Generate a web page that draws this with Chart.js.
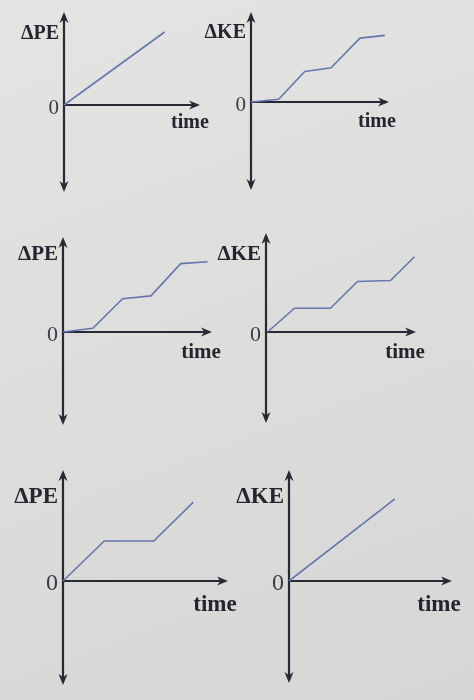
<!DOCTYPE html>
<html>
<head>
<meta charset="utf-8">
<script src="https://cdn.jsdelivr.net/npm/chart.js@4/dist/chart.umd.min.js"></script>
<style>
  html, body { margin: 0; padding: 0; }
  body {
    width: 474px; height: 700px; position: relative; overflow: hidden;
    background: linear-gradient(160deg, #e4e4e3 0%, #dcdcdb 55%, #d6d6d5 100%);
  }
  canvas { position: absolute; left: 0; top: 0; }
</style>
</head>
<body>
<canvas id="c1" width="474" height="700"></canvas>
<canvas id="c2" width="474" height="700"></canvas>
<canvas id="c3" width="474" height="700"></canvas>
<canvas id="c4" width="474" height="700"></canvas>
<canvas id="c5" width="474" height="700"></canvas>
<canvas id="c6" width="474" height="700"></canvas>
<script>
// values (time 0..10 to the arrow tip, energy 10 = top arrow tip)
const peTime1 = [0, 7.4];
const peValue1 = [0, 7.85];
const keTime1 = [0, 2.0, 3.9, 5.8, 7.9, 9.7];
const keValue1 = [0, 0.3, 3.4, 3.8, 7.1, 7.4];
const peTime2 = [0, 2.0, 4.0, 5.9, 7.9, 9.7];
const peValue2 = [0, 0.4, 3.5, 3.8, 7.2, 7.4];
const keTime2 = [0.1, 1.9, 4.3, 6.1, 8.3, 9.9];
const keValue2 = [0, 2.4, 2.4, 5.1, 5.2, 7.6];
const peTime3 = [0, 2.5, 5.5, 7.9];
const peValue3 = [0, 3.6, 3.6, 7.1];
const keTime3 = [0, 6.5];
const keValue3 = [0, 7.4];

const yTitles = ["ΔPE", "ΔKE", "ΔPE", "ΔKE", "ΔPE", "ΔKE"];
const xTitle = "time";
const zeroLabel = "0";

// where each little graph sits: y axis x, arrow tip x, top tip, x axis y, bottom tip
const panels = [
  { id: "c1", ax: 64,  tip: 200, top: 12,  axY: 105, bot: 192, fs: 20, tDy: 18, yDy: 22, tDx: 10, t: peTime1, v: peValue1, title: yTitles[0] },
  { id: "c2", ax: 251, tip: 389, top: 12,  axY: 102, bot: 190, fs: 20, tDy: 20, yDy: 21, tDx: 12, t: keTime1, v: keValue1, title: yTitles[1] },
  { id: "c3", ax: 63,  tip: 212, top: 237, axY: 332, bot: 425, fs: 21, tDy: 21, yDy: 18, tDx: 11, t: peTime2, v: peValue2, title: yTitles[2] },
  { id: "c4", ax: 266, tip: 416, top: 233, axY: 332, bot: 423, fs: 21, tDy: 21, yDy: 22, tDx: 11, t: keTime2, v: keValue2, title: yTitles[3] },
  { id: "c5", ax: 63,  tip: 228, top: 470, axY: 581, bot: 685, fs: 23, tDy: 24, yDy: 27, tDx: 13, t: peTime3, v: peValue3, title: yTitles[4] },
  { id: "c6", ax: 289, tip: 452, top: 470, axY: 581, bot: 683, fs: 23, tDy: 24, yDy: 27, tDx: 13, t: keTime3, v: keValue3, title: yTitles[5] }
];

const axisColor = "#272a35";
const lineColor = "#6677b0";

function arrowHead(ctx, x, y, angle, len, wid) {
  ctx.save();
  ctx.translate(x, y);
  ctx.rotate(angle);
  ctx.beginPath();
  ctx.moveTo(0, 0);
  ctx.lineTo(-len, -wid / 2);
  ctx.lineTo(-len * 0.7, 0);
  ctx.lineTo(-len, wid / 2);
  ctx.closePath();
  ctx.fill();
  ctx.restore();
}

const axesPlugin = {
  id: "sketchAxes",
  beforeDatasetsDraw(chart, args, opts) {
    const ctx = chart.ctx;
    const a = chart.chartArea;
    const x0 = chart.scales.x.getPixelForValue(0);
    const y0 = chart.scales.y.getPixelForValue(0);
    ctx.save();
    ctx.strokeStyle = axisColor;
    ctx.fillStyle = axisColor;
    ctx.lineWidth = 2.2;
    ctx.beginPath();
    ctx.moveTo(x0, a.top + 3);
    ctx.lineTo(x0, a.bottom - 3);
    ctx.moveTo(x0, y0);
    ctx.lineTo(a.right - 3, y0);
    ctx.stroke();
    arrowHead(ctx, x0, a.top, -Math.PI / 2, 11, 9);
    arrowHead(ctx, x0, a.bottom, Math.PI / 2, 11, 9);
    arrowHead(ctx, a.right, y0, 0, 11, 9);

    const fs = opts.fs;
    ctx.textBaseline = "middle";
    ctx.fillStyle = "#23252f";
    ctx.font = "bold " + fs + "px 'Liberation Serif', 'DejaVu Serif', serif";
    ctx.textAlign = "right";
    ctx.fillText(opts.title, x0 - 5, a.top + opts.yDy);
    ctx.textAlign = "center";
    ctx.fillText(xTitle, a.right - opts.tDx, y0 + opts.tDy);
    ctx.font = (fs + 1) + "px 'Liberation Serif', 'DejaVu Serif', serif";
    ctx.textAlign = "right";
    ctx.fillStyle = "#3a3c45";
    ctx.fillText(zeroLabel, x0 - 5, y0 + 3);
    ctx.restore();
  }
};

panels.forEach(function (p) {
  const yMin = -(p.bot - p.axY) / (p.axY - p.top) * 10;
  new Chart(document.getElementById(p.id), {
    type: "scatter",
    data: {
      datasets: [{
        data: p.t.map(function (t, i) { return { x: t, y: p.v[i] }; }),
        showLine: true,
        borderColor: lineColor,
        borderWidth: 1.6,
        pointRadius: 0,
        fill: false,
        clip: false
      }]
    },
    options: {
      responsive: false,
      animation: false,
      events: [],
      layout: {
        padding: { left: p.ax, right: 474 - p.tip, top: p.top, bottom: 700 - p.bot }
      },
      scales: {
        x: { type: "linear", display: false, min: 0, max: 10 },
        y: { type: "linear", display: false, min: yMin, max: 10 }
      },
      plugins: {
        legend: { display: false },
        tooltip: { enabled: false },
        sketchAxes: { fs: p.fs, tDy: p.tDy, yDy: p.yDy, tDx: p.tDx, title: p.title }
      }
    },
    plugins: [axesPlugin]
  });
});
</script>
</body>
</html>
